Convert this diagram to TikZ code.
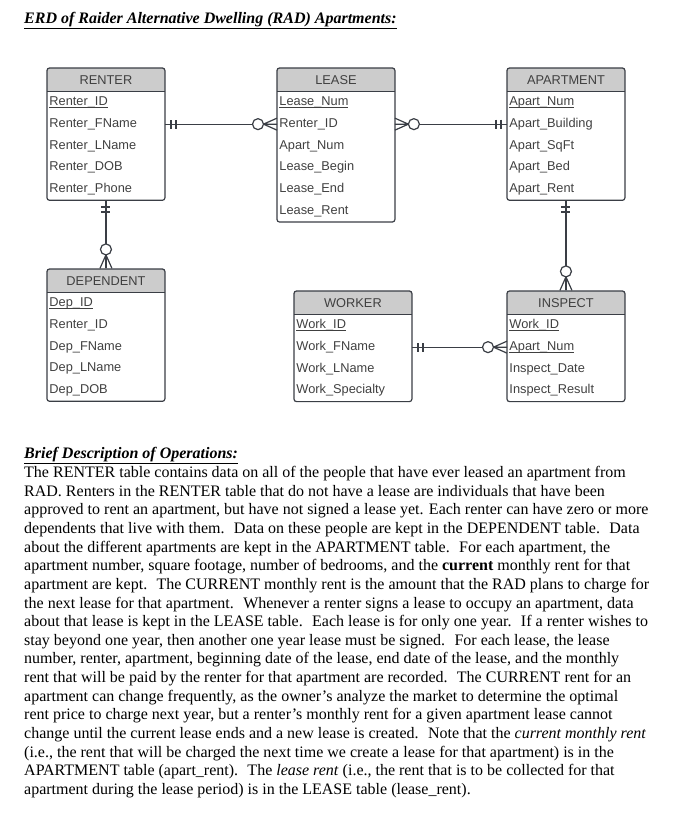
\documentclass[tikz,border=0pt]{standalone}
\usepackage{fontspec}
\setmainfont{Liberation Serif}
\newfontfamily\erdfont{Liberation Sans}
\usetikzlibrary{positioning,fit}
\definecolor{erdline}{HTML}{3A3E45}
\definecolor{erdtext}{HTML}{404040}
\definecolor{erdgray}{HTML}{CCCCCC}

\tikzset{
  erdhead/.style={fill=erdgray, minimum width=117.5pt, minimum height=23pt, inner sep=0pt,
    font=\erdfont\fontsize{12.8}{14}\selectfont, text=erdtext, anchor=north west},
  erdrow/.style={minimum width=117.5pt, text width=113pt, align=left, minimum height=21.7pt,
    text height=9.5pt, text depth=2.7pt,
    inner xsep=2.25pt, inner ysep=0pt, font=\erdfont\fontsize{12.8}{14}\selectfont, text=erdtext, anchor=north west},
  erdbox/.style={draw=erdline, line width=1.2pt, rounded corners=2.5pt, inner sep=0pt},
  conn/.style={draw=erdline, line width=1.2pt},
  mandone/.pic={\draw[conn] (6,-4.5) -- (6,4.5) (11,-4.5) -- (11,4.5);},
  zeromany/.pic={\draw[conn] (0,6) -- (13.5,0) -- (0,-6) (0,0) -- (13.5,0);
    \draw[conn, fill=white] (19,0) circle (5.5pt);}
}
\newcommand{\erdkey}[1]{\smash{\underline{\smash{#1}}}}

% table: name, top left corner, title, attributes
\newcommand{\erdtable}[4]{%
  \node[erdhead] (#1-h) at (#2) {#3};
  \foreach \a [count=\i] in {#4}{
    \node[erdrow, yshift={-(\i-1)*21.7pt}] (#1-\i) at (#1-h.south west) {\a};
    \xdef\erdlast{\i}
  }
  \draw[conn] (#1-h.south west) -- (#1-h.south east);
  \node[erdbox, fit=(#1-h)(#1-\erdlast)] (#1) {};
}

\begin{document}
\begin{tikzpicture}[x=1pt, y=1pt]
\useasboundingbox (0,0) rectangle (687,-817);

\node[anchor=base west, inner sep=0pt, font=\fontsize{16}{18}\selectfont\bfseries\itshape] (title) at (24,-23)
  {\underline{ERD of Raider Alternative Dwelling (RAD) Apartments:}};

\erdtable{renter}{47,-68}{RENTER}{\erdkey{Renter\_ID},Renter\_FName,Renter\_LName,Renter\_DOB,Renter\_Phone}
\erdtable{lease}{277,-68}{LEASE}{\erdkey{Lease\_Num},Renter\_ID,Apart\_Num,Lease\_Begin,Lease\_End,Lease\_Rent}
\erdtable{apartment}{507,-68}{APARTMENT}{\erdkey{Apart\_Num},Apart\_Building,Apart\_SqFt,Apart\_Bed,Apart\_Rent}
\erdtable{dependent}{47,-269}{DEPENDENT}{\erdkey{Dep\_ID},Renter\_ID,Dep\_FName,Dep\_LName,Dep\_DOB}
\erdtable{worker}{294,-291}{WORKER}{\erdkey{Work\_ID},Work\_FName,Work\_LName,Work\_Specialty}
\erdtable{inspect}{507,-291}{INSPECT}{\erdkey{Work\_ID},\erdkey{Apart\_Num},Inspect\_Date,Inspect\_Result}

% relationships
\draw[conn] (renter-2.east) -- (lease-2.west);
\draw[conn] (lease-2.east) -- (apartment-2.west);
\draw[conn] (renter.south) -- (dependent.north);
\draw[conn] (apartment.south) -- (inspect.north);
\draw[conn] (worker-2.east) -- (inspect-2.west);
\pic at (renter-2.east) {mandone};
\pic[rotate=180] at (lease-2.west) {zeromany};
\pic at (lease-2.east) {zeromany};
\pic[rotate=180] at (apartment-2.west) {mandone};
\pic[rotate=-90] at (renter.south) {mandone};
\pic[rotate=90] at (dependent.north) {zeromany};
\pic[rotate=-90] at (apartment.south) {mandone};
\pic[rotate=90] at (inspect.north) {zeromany};
\pic at (worker-2.east) {mandone};
\pic[rotate=180] at (inspect-2.west) {zeromany};

\node[anchor=base west, inner sep=0pt, font=\fontsize{16}{18}\selectfont\bfseries\itshape] (brief) at (24,-458)
  {\underline{Brief Description of Operations:}};
\node[anchor=north west, inner sep=0pt, align=left, font=\fontsize{16}{18.65}\selectfont] (desc) at (24,-466) {%
The RENTER table contains data on all of the people that have ever leased an apartment from\\
RAD. Renters in the RENTER table that do not have a lease are individuals that have been\\
approved to rent an apartment, but have not signed a lease yet. Each renter can have zero or more\\
dependents that live with them.~ Data on these people are kept in the DEPENDENT table.~ Data\\
about the different apartments are kept in the APARTMENT table.~ For each apartment, the\\
apartment number, square footage, number of bedrooms, and the \textbf{current} monthly rent for that\\
apartment are kept.~ The CURRENT monthly rent is the amount that the RAD plans to charge for\\
the next lease for that apartment.~ Whenever a renter signs a lease to occupy an apartment, data\\
about that lease is kept in the LEASE table.~ Each lease is for only one year.~ If a renter wishes to\\
stay beyond one year, then another one year lease must be signed.~ For each lease, the lease\\
number, renter, apartment, beginning date of the lease, end date of the lease, and the monthly\\
rent that will be paid by the renter for that apartment are recorded.~ The CURRENT rent for an\\
apartment can change frequently, as the owner’s analyze the market to determine the optimal\\
rent price to charge next year, but a renter’s monthly rent for a given apartment lease cannot\\
change until the current lease ends and a new lease is created.~ Note that the \textit{current monthly rent}\\
(i.e., the rent that will be charged the next time we create a lease for that apartment) is in the\\
APARTMENT table (apart\_rent).~ The \textit{lease rent} (i.e., the rent that is to be collected for that\\
apartment during the lease period) is in the LEASE table (lease\_rent).};
\end{tikzpicture}
\end{document}
